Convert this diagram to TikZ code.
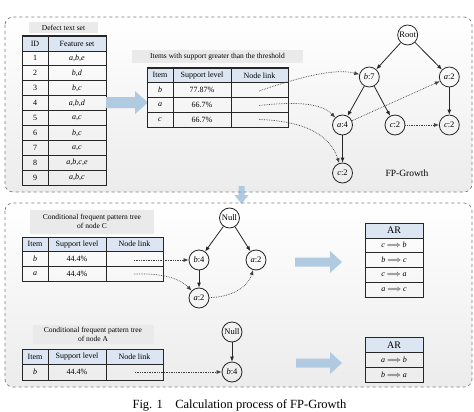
\documentclass[tikz,border=0pt]{standalone}
\usepackage{fontspec}
\setmainfont{Liberation Serif}
\usetikzlibrary{arrows.meta,calc}
\definecolor{hdrblue}{RGB}{220,230,242}
\definecolor{lblgray}{RGB}{234,234,234}
\definecolor{arrblue}{RGB}{176,202,225}
\definecolor{panelline}{RGB}{125,125,125}
\newcommand\tcell[7][]{%
  \path[cellbox,#1] (#3,#4) rectangle (#5,#6);
  \node[celltext] (#2) at ($(#3,#4)!0.5!(#5,#6)$) {#7};}
\begin{document}
\begin{tikzpicture}[x=1pt,y=-1pt,
  panelfill/.style={rounded corners=8pt, top color=white, bottom color=gray!15, draw=none},
  panelborder/.style={draw=panelline, dashed, line width=0.7pt, rounded corners=8pt},
  lbl/.style={fill=lblgray, inner sep=1pt, font=\fontsize{7.5}{9}\selectfont, align=center},
  cellbox/.style={draw=black!85, line width=0.6pt},
  celltext/.style={font=\fontsize{8}{9}\selectfont, inner sep=0pt},
  hdr/.style={fill=hdrblue},
  outer/.style={draw=black!85, line width=1pt},
  tnode/.style={circle, draw=black!85, line width=0.8pt, minimum size=20pt, inner sep=0pt, font=\fontsize{8.5}{9}\selectfont},
  edge/.style={-{Latex[length=5pt,width=4pt]}, line width=0.8pt, draw=black!85},
  link/.style={-{Latex[length=5pt,width=4pt]}, densely dotted, line width=0.7pt, draw=black!75},
  bigarrow/.style={fill=arrblue, draw=none}]
\useasboundingbox (0,0) rectangle (474,412);
\fill[white] (0,0) rectangle (474,412);
% panels
\path[panelfill] (5,17) rectangle (472,192);
\path[panelfill] (5,203) rectangle (472,387);
\fill[bigarrow] (238.5,186) -- (244.5,186) -- (244.5,195) -- (248.5,195) -- (241.5,204) -- (234.5,195) -- (238.5,195) -- cycle;
\path[panelborder] (5,17) rectangle (472,192);
\path[panelborder] (5,203) rectangle (472,387);

% ---------- top panel ----------
\node[lbl, minimum width=69pt, minimum height=11pt] (deflbl) at (63.5,27.5) {Defect text set};
\tcell[hdr]{t1h1}{22}{36}{48}{50.9}{ID}
\tcell[hdr]{t1h2}{48}{36}{106}{50.9}{Feature set}
\tcell{t1a1}{22}{50.9}{48}{65.8}{1}   \tcell{t1b1}{48}{50.9}{106}{65.8}{\textit{a,b,e}}
\tcell{t1a2}{22}{65.8}{48}{80.7}{2}   \tcell{t1b2}{48}{65.8}{106}{80.7}{\textit{b,d}}
\tcell{t1a3}{22}{80.7}{48}{95.6}{3}   \tcell{t1b3}{48}{80.7}{106}{95.6}{\textit{b,c}}
\tcell{t1a4}{22}{95.6}{48}{110.5}{4}  \tcell{t1b4}{48}{95.6}{106}{110.5}{\textit{a,b,d}}
\tcell{t1a5}{22}{110.5}{48}{125.4}{5} \tcell{t1b5}{48}{110.5}{106}{125.4}{\textit{a,c}}
\tcell{t1a6}{22}{125.4}{48}{140.3}{6} \tcell{t1b6}{48}{125.4}{106}{140.3}{\textit{b,c}}
\tcell{t1a7}{22}{140.3}{48}{155.2}{7} \tcell{t1b7}{48}{140.3}{106}{155.2}{\textit{a,c}}
\tcell{t1a8}{22}{155.2}{48}{170.1}{8} \tcell{t1b8}{48}{155.2}{106}{170.1}{\textit{a,b,c,e}}
\tcell{t1a9}{22}{170.1}{48}{185}{9}   \tcell{t1b9}{48}{170.1}{106}{185}{\textit{a,b,c}}
\path[outer] (22,36) rectangle (106,185);

\fill[bigarrow] (106,97) -- (135,97) -- (135,91) -- (148,102.5) -- (135,114) -- (135,108) -- (106,108) -- cycle;

\node[lbl, minimum width=171pt, minimum height=13pt] (itemlbl) at (217.5,56.5) {Items with support greater than the threshold};
\tcell[hdr]{t2h1}{147}{68}{173}{82.8}{Item}
\tcell[hdr]{t2h2}{173}{68}{231}{82.8}{Support level}
\tcell[hdr]{t2h3}{231}{68}{288}{82.8}{Node link}
\tcell{t2a1}{147}{82.8}{173}{97.6}{\textit{b}}  \tcell{t2b1}{173}{82.8}{231}{97.6}{77.87\%}  \tcell{t2c1}{231}{82.8}{288}{97.6}{}
\tcell{t2a2}{147}{97.6}{173}{112.4}{\textit{a}} \tcell{t2b2}{173}{97.6}{231}{112.4}{66.7\%}  \tcell{t2c2}{231}{97.6}{288}{112.4}{}
\tcell{t2a3}{147}{112.4}{173}{127.2}{\textit{c}} \tcell{t2b3}{173}{112.4}{231}{127.2}{66.7\%} \tcell{t2c3}{231}{112.4}{288}{127.2}{}
\path[outer] (147,68) rectangle (288,127.2);

% tree
\node[tnode] (root) at (407.7,35) {Root};
\node[tnode] (b7) at (369.3,77) {\textit{b}:7};
\node[tnode] (a2t) at (449.3,77) {\textit{a}:2};
\node[tnode] (a4) at (342.5,125) {\textit{a}:4};
\node[tnode] (c2m) at (395,125) {\textit{c}:2};
\node[tnode] (c2r) at (449.3,125) {\textit{c}:2};
\node[tnode] (c2b) at (342.5,173) {\textit{c}:2};
\node[font=\fontsize{9.5}{11}\selectfont] (fpg) at (407,173) {FP-Growth};
\draw[edge] (root) -- (b7);
\draw[edge] (root) -- (a2t);
\draw[edge] (b7) -- (a4);
\draw[edge] (b7) -- (c2m);
\draw[edge] (a2t) -- (c2r);
\draw[edge] (a4) -- (c2b);
\draw[link] (c2m) -- (c2r);
\draw[link] (a4) -- (a2t);
\coordinate (lb) at (259,91);
\coordinate (la) at (259,105.5);
\coordinate (lc) at (259,119.5);
\draw[link] (lb) .. controls (300,77) and (335,68) .. (b7);
\draw[link] (la) .. controls (300,101) and (322,104) .. (a4);
\draw[link] (lc) .. controls (305,121) and (330,135) .. (c2b);

% ---------- bottom panel, node C ----------
\node[lbl, minimum width=124pt, minimum height=24pt] (condc) at (92,221.5) {Conditional frequent pattern tree\\of node C};
\tcell[hdr]{t3h1}{22}{237}{48}{251.5}{Item}
\tcell[hdr]{t3h2}{48}{237}{106}{251.5}{Support level}
\tcell[hdr]{t3h3}{106}{237}{163}{251.5}{Node link}
\tcell{t3a1}{22}{251.5}{48}{266.5}{\textit{b}} \tcell{t3b1}{48}{251.5}{106}{266.5}{44.4\%} \tcell{t3c1}{106}{251.5}{163}{266.5}{}
\tcell{t3a2}{22}{266.5}{48}{281.5}{\textit{a}} \tcell{t3b2}{48}{266.5}{106}{281.5}{44.4\%} \tcell{t3c2}{106}{266.5}{163}{281.5}{}
\path[outer] (22,237) rectangle (163,281.5);

\node[tnode] (null1) at (229.5,218) {Null};
\node[tnode] (b4c) at (199,260) {\textit{b}:4};
\node[tnode] (a2r) at (256,260) {\textit{a}:2};
\node[tnode] (a2b) at (199,298) {\textit{a}:2};
\draw[edge] (null1) -- (b4c);
\draw[edge] (null1) -- (a2r);
\draw[edge] (b4c) -- (a2b);
\coordinate (lb3) at (134,260);
\coordinate (la3) at (134,274);
\draw[link] (lb3) -- (b4c);
\draw[link] (la3) .. controls (165,273) and (180,279) .. (a2b);
\draw[link] (a2b) .. controls (232,297) and (248,287) .. (a2r);

\fill[bigarrow] (295,257.5) -- (330,257.5) -- (330,251) -- (342,262) -- (330,273) -- (330,266.5) -- (295,266.5) -- cycle;

\tcell[hdr]{ar1h}{365}{223}{423}{237.8}{\fontsize{10}{11}\selectfont AR}
\tcell{ar1r1}{365}{237.8}{423}{252.6}{\textit{c} $\Longrightarrow$ \textit{b}}
\tcell{ar1r2}{365}{252.6}{423}{267.4}{\textit{b} $\Longrightarrow$ \textit{c}}
\tcell{ar1r3}{365}{267.4}{423}{282.2}{\textit{c} $\Longrightarrow$ \textit{a}}
\tcell{ar1r4}{365}{282.2}{423}{297}{\textit{a} $\Longrightarrow$ \textit{c}}
\path[outer] (365,223) rectangle (423,297);

% ---------- node A ----------
\node[lbl, minimum width=121pt, minimum height=19pt] (conda) at (93,334.5) {Conditional frequent pattern tree\\of node A};
\tcell[hdr]{t4h1}{22}{349}{48}{364.5}{Item}
\tcell[hdr]{t4h2}{48}{349}{106}{364.5}{Support level}
\tcell[hdr]{t4h3}{106}{349}{163}{364.5}{Node link}
\tcell{t4a1}{22}{364.5}{48}{380}{\textit{b}} \tcell{t4b1}{48}{364.5}{106}{380}{44.4\%} \tcell{t4c1}{106}{364.5}{163}{380}{}
\path[outer] (22,349) rectangle (163,380);

\node[tnode] (null2) at (232,332) {Null};
\node[tnode] (b4a) at (232,372) {\textit{b}:4};
\draw[edge] (null2) -- (b4a);
\coordinate (lb4) at (135,372);
\draw[link] (lb4) -- (b4a);

\fill[bigarrow] (296,358.5) -- (330,358.5) -- (330,352) -- (342,363) -- (330,374) -- (330,367.5) -- (296,367.5) -- cycle;

\tcell[hdr]{ar2h}{365}{337.5}{423}{352.5}{\fontsize{10}{11}\selectfont AR}
\tcell{ar2r1}{365}{352.5}{423}{367.7}{\textit{a} $\Longrightarrow$ \textit{b}}
\tcell{ar2r2}{365}{367.7}{423}{382.7}{\textit{b} $\Longrightarrow$ \textit{a}}
\path[outer] (365,337.5) rectangle (423,382.7);

% caption
\node[anchor=base, font=\fontsize{12.5}{14}\selectfont, inner sep=0pt] (cap) at (239.5,408.3) {Fig. 1\quad Calculation process of FP-Growth};
\end{tikzpicture}
\end{document}
